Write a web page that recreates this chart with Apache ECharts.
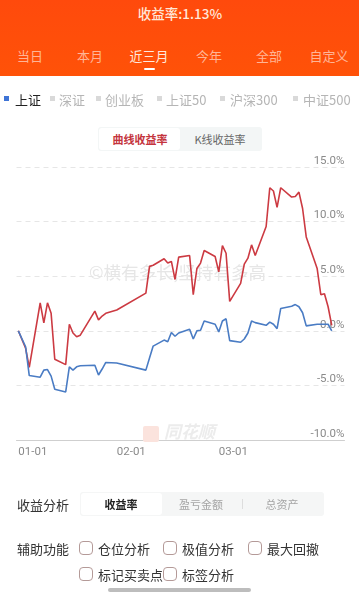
<!DOCTYPE html>
<html>
<head>
<meta charset="utf-8">
<script src="https://cdn.jsdelivr.net/npm/echarts@6/dist/echarts.min.js"></script>
<style>
  html, body { margin: 0; padding: 0; background: #fff; }
  body { width: 359px; height: 600px; position: relative; overflow: hidden; font-family: "Noto Sans CJK SC", sans-serif; }
  .abs { position: absolute; white-space: nowrap; }
  .c { transform: translate(-50%, -50%); }
  .l { transform: translateY(-50%); }
  #header { position: absolute; left: 0; top: 0; width: 359px; height: 76px; background: linear-gradient(#ff4a0c, #ff5208); }
  #chart { position: absolute; left: 0; top: 0; width: 359px; height: 600px; }
  .box { position: absolute; width: 12px; height: 12px; border: 1px solid #b49a98; border-radius: 4px; background: #fff; }
</style>
</head>
<body>
<div id="chart"></div>
<div id="header"></div>
<div id="ui"></div>
<script>
// 横轴按自然日
const monthDays = [["01", 31], ["02", 28], ["03", 31]];
const tradeDates = ["01-01","01-03","01-04","01-07","01-08","01-09","01-10","01-11","01-14","01-15","01-16","01-17","01-18","01-22","01-23","01-24","01-25","01-28","02-05","02-06","02-07","02-10","02-11","02-12","02-13","02-14","02-17","02-18","02-19","02-20","02-21","02-24","02-25","02-26","02-27","02-28","03-03","03-04","03-05","03-06","03-07","03-10","03-11","03-12","03-13","03-14","03-17","03-18","03-19","03-20","03-21","03-24","03-25","03-26","03-27","03-28"];
const accountReturn = [0,-1.6,-3.35,2.56,0.73,2.56,1.6,-2.6,-3.1,0.6,-0.2,-0.55,-0.4,1.8,1.0,1.35,1.6,1.9,3.45,5.9,6.0,6.6,6.2,6.35,4.7,6.75,6.9,3.3,5.7,6.2,7.35,6.8,5.4,7.8,7.1,2.7,4.35,6.1,6.65,7.87,6.9,9.55,13.1,12.8,11.3,13.1,12.25,12.3,12.7,11.2,8.6,5.7,3.3,3.4,2.2,0.5];
const indexReturn = [0,-1.46,-4.1,-4.25,-3.6,-3.55,-4.15,-5.35,-5.6,-3.3,-3.6,-3.3,-3.2,-3.15,-4.05,-3.5,-2.9,-2.95,-3.6,-2.5,-1.4,-0.85,-1.0,-0.15,-0.5,-0.2,0.15,-0.75,0,0.05,0.9,0.6,-0.1,0.9,1.1,-0.9,-1.05,-0.75,-0.2,0.9,0.75,0.5,0.8,0.6,0.2,2.05,2.25,2.4,2.2,1.65,0.45,0.6,0.6,0.6,0.6,0];
const monthTicks = ["01-01", "02-01", "03-01"];

const rangeTabs = [["当日", 30], ["本月", 90], ["近三月", 149], ["今年", 209], ["全部", 269], ["自定义", 329]];
const indexTabs = [["上证", 15, 4], ["深证", 59, 50], ["创业板", 105, 96], ["上证50", 166, 157], ["沪深300", 230, 220], ["中证500", 303, 293]];
const checkItems = [["仓位分析", 79, 548], ["极值分析", 163, 548], ["最大回撤", 248, 548], ["标记买卖点", 79, 574], ["标签分析", 163, 574]];

const calendar = [];
monthDays.forEach(([m, n]) => {
  for (let d = 1; d <= n; d++) {
    calendar.push(m + "-" + String(d).padStart(2, "0"));
  }
});
const categories = calendar.slice(0, 90);

const chart = echarts.init(document.getElementById("chart"), null, { renderer: "canvas" });
chart.setOption({
  animation: false,
  grid: { left: 16.5, width: 328, top: 167, height: 273 },
  xAxis: {
    type: "category",
    data: categories,
    boundaryGap: true,
    axisLine: { onZero: false, lineStyle: { color: "#cfcfcf", width: 1 } },
    axisTick: { show: false },
    splitLine: { show: false },
    axisLabel: {
      color: "#8a8a8a",
      fontSize: 11.5,
      margin: 6,
      fontFamily: "Roboto",
      interval: (i, v) => monthTicks.includes(v),
      alignMinLabel: "left",
      hideOverlap: false,
      showMinLabel: true
    }
  },
  yAxis: {
    type: "value",
    position: "right",
    min: -10,
    max: 15,
    interval: 5,
    axisLine: { show: false },
    axisTick: { show: false },
    splitLine: { showMinLine: false, lineStyle: { color: "#e6e6e6", type: [5, 4], width: 1 } },
    axisLabel: {
      inside: true,
      color: "#8a8a8a",
      fontSize: 11.5,
      fontFamily: "Roboto",
      verticalAlign: "bottom",
      margin: 0,
      formatter: v => v.toFixed(1) + "%"
    }
  },
  series: [
    {
      type: "line",
      name: "收益率",
      data: tradeDates.map((d, i) => [d, accountReturn[i]]),
      showSymbol: false,
      symbol: "none",
      z: 3,
      lineStyle: { color: "#cc3a42", width: 1.6 }
    },
    {
      type: "line",
      name: "上证",
      data: tradeDates.map((d, i) => [d, indexReturn[i]]),
      showSymbol: false,
      symbol: "none",
      z: 4,
      lineStyle: { color: "#4a7cc4", width: 1.6 }
    }
  ],
  graphic: [
    { type: "text", left: 89, top: 264, z: 1, style: { text: "©横有多长,坚持有多高", fontSize: 17.5, fill: "#e6e6e6", fontFamily: "Noto Sans CJK SC" } },
    { type: "rect", left: 143, top: 426, z: 1, shape: { width: 16, height: 16, r: 2 }, style: { fill: "#fbe3dd" } },
    { type: "text", left: 164, top: 423, z: 1, style: { text: "同花顺", fontSize: 17, fontStyle: "italic", fontWeight: "bold", fill: "#ececec", fontFamily: "Noto Sans CJK SC" } }
  ]
});

// 页面上的按钮和文字
const ui = document.getElementById("ui");
function addText(text, x, y, size, color, cls, weight) {
  const el = document.createElement("div");
  el.className = "abs " + cls;
  el.textContent = text;
  el.style.cssText = `left:${x}px;top:${y}px;font-size:${size}px;color:${color};font-weight:${weight || 400};`;
  ui.appendChild(el);
}
function addRect(x, y, w, h, bg, r) {
  const el = document.createElement("div");
  el.className = "abs";
  el.style.cssText = `left:${x}px;top:${y}px;width:${w}px;height:${h}px;background:${bg};border-radius:${r}px;`;
  ui.appendChild(el);
}

addText("收益率:1.13%", 180, 13, 13.5, "#ffe6d8", "c", 500);
rangeTabs.forEach(([t, x]) => addText(t, x, 55, 13, t === "近三月" ? "#ffe9dd" : "#ffb596", "c"));
addRect(144, 68, 11, 2, "#fff", 1);

indexTabs.forEach(([t, x, sq], i) => {
  addRect(sq, 96, 5, 5, i === 0 ? "#3f74d6" : "#d9d9d9", 0);
  addText(t, x, 99, 13, i === 0 ? "#222" : "#b5b5b5", "l");
});

addRect(98, 127, 164, 24, "#f3f6f6", 3);
addRect(99, 128, 81, 22, "#fff", 3);
addText("曲线收益率", 140, 139, 11, "#c4343d", "c", 700);
addText("K线收益率", 220, 139, 11, "#666", "c");

addText("收益分析", 17, 504, 13, "#333", "l");
addRect(80, 492, 244, 24, "#f5f6f6", 3);
addRect(81, 493, 81, 22, "#fff", 3);
addRect(242, 499, 1, 10, "#ddd", 0);
addText("收益率", 121, 504, 11, "#222", "c", 700);
addText("盈亏金额", 201, 504, 11, "#a5a5a5", "c");
addText("总资产", 282, 504, 11, "#a5a5a5", "c");

addText("辅助功能", 17, 548, 13, "#333", "l");
checkItems.forEach(([t, x, y]) => {
  const box = document.createElement("div");
  box.className = "box";
  box.style.left = x + "px";
  box.style.top = (y - 7) + "px";
  ui.appendChild(box);
  addText(t, x + 19, y, 13, "#333", "l");
});
addRect(0, 582, 359, 18, "#fff", 0);
addRect(108, 588, 143, 4, "#bdbdbd", 2);
</script>
</body>
</html>
